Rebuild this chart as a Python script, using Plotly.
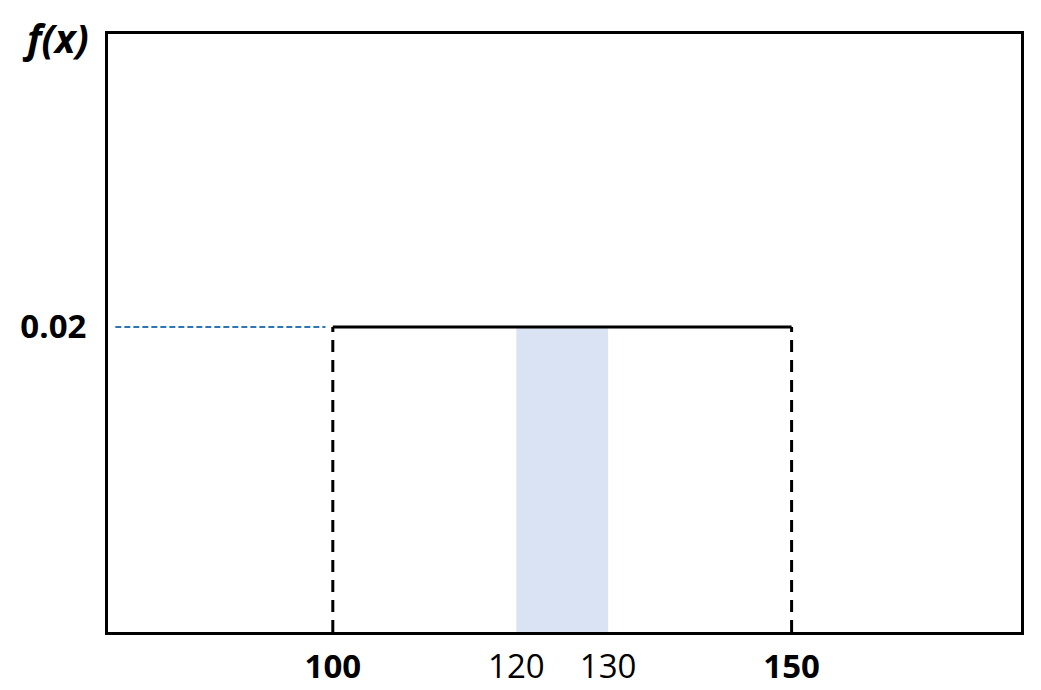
import plotly.graph_objects as go

# uniform distribution on [100, 150], shaded interval [120, 130]
lower, upper = 100, 150
density = 0.02
shade_lo, shade_hi = 120, 130

tick_vals = [100, 120, 130, 150]
tick_text = ["<b>100</b>", "120", "130", "<b>150</b>"]

fig = go.Figure()

# shaded probability area
fig.add_trace(go.Scatter(
    x=[shade_lo, shade_lo, shade_hi, shade_hi],
    y=[0, density, density, 0],
    fill="toself", fillcolor="#DAE3F3",
    line=dict(width=0), mode="lines", hoverinfo="skip",
))

# dashed verticals at the bounds
for b in [lower, upper]:
    fig.add_trace(go.Scatter(
        x=[b, b], y=[0, density], mode="lines",
        line=dict(color="black", width=3, dash="12px,8px"),
    ))

# top of the density
fig.add_trace(go.Scatter(
    x=[lower, upper], y=[density, density], mode="lines",
    line=dict(color="black", width=3),
))

# blue guide to the y label
fig.add_trace(go.Scatter(
    x=[76.3, lower - 0.8], y=[density, density], mode="lines",
    line=dict(color="#2E75B6", width=2, dash="6px,3px"),
))

font = "Open Sans, Lato, sans-serif"

# page body adds ~7px offset, margins compensate for it
fig.update_layout(
    width=1041, height=690,
    margin=dict(l=100, r=28, t=26, b=66),
    paper_bgcolor="white", plot_bgcolor="white",
    showlegend=False,
    font=dict(family=font, color="black", size=33),
)
fig.update_xaxes(
    range=[75.5, 175], tickvals=tick_vals, ticktext=tick_text,
    showgrid=False, zeroline=False, ticks="", automargin=False,
    showline=True, linecolor="black", linewidth=3, mirror=True,
    ticklabelstandoff=3,
)
fig.update_yaxes(
    range=[0, 0.0392], tickvals=[density], ticktext=["<b>0.02</b>"],
    showgrid=False, zeroline=False, ticks="", automargin=False,
    showline=True, linecolor="black", linewidth=3, mirror=True,
    ticklabelstandoff=12,
)

fig.add_annotation(
    text="<b><i>f(x)</i></b>", xref="paper", yref="paper",
    x=-0.057, y=0.994, showarrow=False,
    font=dict(family=font, size=39, color="black"),
    xanchor="center", yanchor="middle",
)

fig.write_html("out.html")
